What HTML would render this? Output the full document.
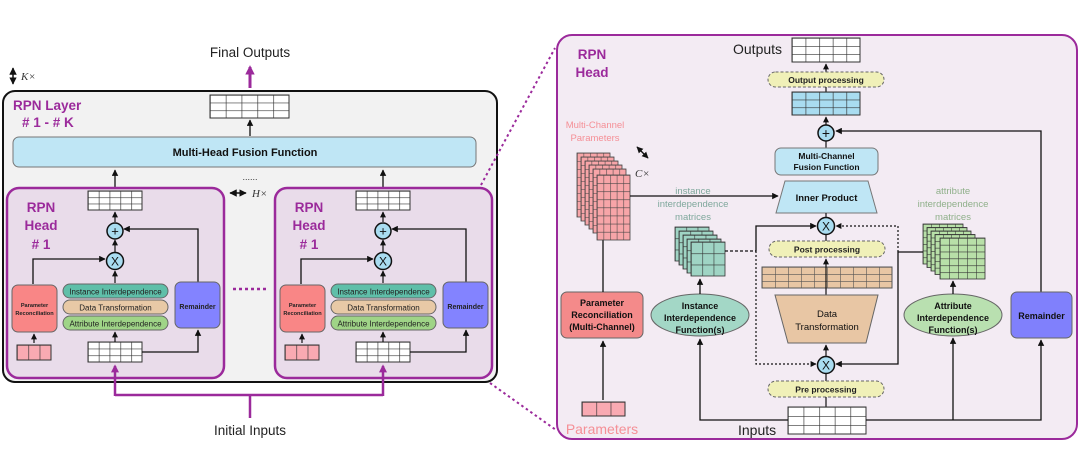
<!DOCTYPE html>
<html><head><meta charset="utf-8"><style>
html,body{margin:0;padding:0;background:#fff;}
svg{display:block;font-family:"Liberation Sans",sans-serif;}
</style></head><body>
<svg width="1080" height="475" viewBox="0 0 1080 475" xmlns="http://www.w3.org/2000/svg">
<defs>
<marker id="a" viewBox="0 0 10 10" refX="9" refY="5" markerWidth="5" markerHeight="5" orient="auto-start-reverse"><path d="M0 0L10 5L0 10z" fill="#111"/></marker>
<marker id="ap" viewBox="0 0 10 10" refX="8" refY="5" markerWidth="3.2" markerHeight="3.2" orient="auto"><path d="M0 0L10 5L0 10z" fill="#9b2a9b"/></marker>
<pattern id="w53" patternUnits="objectBoundingBox" width="0.2" height="0.3333"><rect width="200" height="200" fill="#fff"/><path d="M0 0H200M0 0V200" stroke="#333" stroke-width="1.3"/></pattern>
<pattern id="p31" patternUnits="objectBoundingBox" width="0.3333" height="1"><rect width="200" height="200" fill="#f9aab2"/><path d="M0 0H200M0 0V200" stroke="#333" stroke-width="1.3"/></pattern>
<pattern id="b53" patternUnits="objectBoundingBox" width="0.2" height="0.3333"><rect width="200" height="200" fill="#a9dcf0"/><path d="M0 0H200M0 0V200" stroke="#333" stroke-width="1.3"/></pattern>
<pattern id="t103" patternUnits="objectBoundingBox" width="0.1" height="0.3333"><rect width="200" height="200" fill="#e8c6a4"/><path d="M0 0H200M0 0V200" stroke="#555" stroke-width="1.2"/></pattern>
<pattern id="p58" patternUnits="objectBoundingBox" width="0.2" height="0.125"><rect width="200" height="200" fill="#f7a5a8"/><path d="M0 0H200M0 0V200" stroke="#444" stroke-width="1.1"/></pattern>
<pattern id="t33" patternUnits="objectBoundingBox" width="0.3333" height="0.3333"><rect width="200" height="200" fill="#9fd4c4"/><path d="M0 0H200M0 0V200" stroke="#333" stroke-width="1.2"/></pattern>
<pattern id="g56" patternUnits="objectBoundingBox" width="0.2" height="0.1667"><rect width="200" height="200" fill="#b8e0a8"/><path d="M0 0H200M0 0V200" stroke="#333" stroke-width="1.1"/></pattern>
</defs>

<!-- ================= LEFT PANEL ================= -->
<text x="250" y="57" font-size="13.5" text-anchor="middle" fill="#222">Final Outputs</text>
<line x1="250" y1="88" x2="250" y2="67" stroke="#9b2a9b" stroke-width="3" marker-end="url(#ap)"/>
<line x1="13" y1="68" x2="13" y2="84" stroke="#111" stroke-width="1.5" marker-end="url(#a)" marker-start="url(#a)"/>
<text x="21" y="80" font-size="11" font-style="italic" font-family="Liberation Serif,serif" fill="#333">K×</text>

<rect x="3" y="91" width="494" height="291" rx="12" fill="#f2f2f2" stroke="#111" stroke-width="2"/>
<text x="13" y="110" font-size="13.5" font-weight="bold" fill="#9b2a9b">RPN Layer</text>
<text x="22" y="127" font-size="13.5" font-weight="bold" fill="#9b2a9b"># 1 - # K</text>
<rect x="210" y="95" width="79" height="23" fill="url(#w53)" stroke="#333"/>
<line x1="250" y1="136" x2="250" y2="120" stroke="#111" stroke-width="1.3" marker-end="url(#a)"/>
<rect x="13" y="137" width="463" height="30" rx="6" fill="#bfe6f5" stroke="#777"/>
<text x="245" y="156" font-size="11" font-weight="bold" text-anchor="middle" fill="#111">Multi-Head Fusion Function</text>
<line x1="115" y1="187" x2="115" y2="170" stroke="#111" stroke-width="1.3" marker-end="url(#a)"/>
<line x1="383" y1="187" x2="383" y2="170" stroke="#111" stroke-width="1.3" marker-end="url(#a)"/>
<text x="250" y="180" font-size="9" text-anchor="middle" fill="#333">......</text>
<line x1="230" y1="193" x2="246" y2="193" stroke="#111" stroke-width="1.5" marker-end="url(#a)" marker-start="url(#a)"/>
<text x="252" y="197" font-size="11" font-style="italic" font-family="Liberation Serif,serif" fill="#333">H×</text>
<line x1="233" y1="289" x2="268" y2="289" stroke="#9b2a9b" stroke-width="2.5" stroke-dasharray="3,3"/>

<!-- head 1 -->
<g id="head">
<rect x="7" y="188" width="217" height="190" rx="12" fill="#e9dcea" stroke="#9b2a9b" stroke-width="2.5"/>
<text x="41" y="212" font-size="13.5" font-weight="bold" text-anchor="middle" fill="#9b2a9b">RPN</text>
<text x="41" y="230" font-size="13.5" font-weight="bold" text-anchor="middle" fill="#9b2a9b">Head</text>
<text x="41" y="249" font-size="13.5" font-weight="bold" text-anchor="middle" fill="#9b2a9b"># 1</text>
<rect x="88" y="191" width="54" height="19" fill="url(#w53)" stroke="#333"/>
<line x1="115" y1="222" x2="115" y2="212" stroke="#111" stroke-width="1.2" marker-end="url(#a)"/>
<circle cx="115" cy="231" r="8" fill="#a9dcf0" stroke="#111" stroke-width="1.5"/>
<text x="115" y="235.5" font-size="13" text-anchor="middle" fill="#111">+</text>
<line x1="115" y1="253" x2="115" y2="240" stroke="#111" stroke-width="1.2" marker-end="url(#a)"/>
<circle cx="115" cy="261" r="8.5" fill="#a9dcf0" stroke="#111" stroke-width="1.5"/>
<text x="115" y="265.5" font-size="12" text-anchor="middle" fill="#111">X</text>
<line x1="115" y1="283" x2="115" y2="271" stroke="#111" stroke-width="1.2" marker-end="url(#a)"/>
<polyline points="33,284 33,259 105,259" fill="none" stroke="#111" stroke-width="1.3" marker-end="url(#a)"/>
<polyline points="198,282 198,229 124,229" fill="none" stroke="#111" stroke-width="1.3" marker-end="url(#a)"/>
<rect x="12" y="285" width="45" height="47" rx="6" fill="#f98686" stroke="#666"/>
<text x="34.5" y="307" font-size="5.6" font-weight="bold" text-anchor="middle" fill="#222">Parameter</text>
<text x="34.5" y="315" font-size="5.6" font-weight="bold" text-anchor="middle" fill="#222">Reconciliation</text>
<rect x="63" y="284" width="105" height="14" rx="7" fill="#5fbfa9" stroke="#666"/>
<text x="115.5" y="294.5" font-size="8" text-anchor="middle" fill="#222">Instance Interdependence</text>
<rect x="63" y="300" width="105" height="14" rx="7" fill="#e8c9a6" stroke="#666"/>
<text x="115.5" y="310.5" font-size="8" text-anchor="middle" fill="#222">Data Transformation</text>
<rect x="63" y="316" width="105" height="14" rx="7" fill="#9fd487" stroke="#666"/>
<text x="115.5" y="326.5" font-size="8" text-anchor="middle" fill="#222">Attribute Interdependence</text>
<rect x="175" y="282" width="45" height="46" rx="6" fill="#8383ff" stroke="#666"/>
<text x="197.5" y="309" font-size="7" font-weight="bold" text-anchor="middle" fill="#222">Remainder</text>
<rect x="17" y="345" width="34" height="15" fill="url(#p31)" stroke="#333"/>
<line x1="34" y1="343" x2="34" y2="334" stroke="#111" stroke-width="1.2" marker-end="url(#a)"/>
<rect x="88" y="342" width="54" height="20" fill="url(#w53)" stroke="#333"/>
<line x1="115" y1="342" x2="115" y2="332" stroke="#111" stroke-width="1.2" marker-end="url(#a)"/>
<polyline points="142,352 198,352 198,330" fill="none" stroke="#111" stroke-width="1.3" marker-end="url(#a)"/>
</g>
<use href="#head" x="268"/>

<polyline points="115,395 383,395" fill="none" stroke="#9b2a9b" stroke-width="2.5"/>
<line x1="115" y1="396" x2="115" y2="366" stroke="#9b2a9b" stroke-width="2.5" marker-end="url(#ap)"/>
<line x1="383" y1="396" x2="383" y2="366" stroke="#9b2a9b" stroke-width="2.5" marker-end="url(#ap)"/>
<line x1="250" y1="395" x2="250" y2="418" stroke="#9b2a9b" stroke-width="2.5"/>
<text x="250" y="435" font-size="13.5" text-anchor="middle" fill="#222">Initial Inputs</text>

<line x1="481" y1="185" x2="555" y2="48" stroke="#9b2a9b" stroke-width="2" stroke-dasharray="2.5,3"/>
<line x1="490" y1="383" x2="556" y2="430" stroke="#9b2a9b" stroke-width="2" stroke-dasharray="2.5,3"/>

<!-- ================= RIGHT PANEL ================= -->
<rect x="557" y="35" width="520" height="404" rx="15" fill="#f3ebf3" stroke="#9b2a9b" stroke-width="2"/>
<text x="592" y="59" font-size="13.5" font-weight="bold" text-anchor="middle" fill="#9b2a9b">RPN</text>
<text x="592" y="77" font-size="13.5" font-weight="bold" text-anchor="middle" fill="#9b2a9b">Head</text>

<text x="733" y="54" font-size="14" fill="#222">Outputs</text>
<rect x="792" y="38" width="68" height="24" fill="url(#w53)" stroke="#333"/>
<line x1="826" y1="72" x2="826" y2="64" stroke="#111" stroke-width="1.2" marker-end="url(#a)"/>
<rect x="768" y="72" width="116" height="15" rx="7.5" fill="#f0f0b8" stroke="#666" stroke-dasharray="3,2"/>
<text x="826" y="83" font-size="8.5" font-weight="bold" text-anchor="middle" fill="#222">Output processing</text>
<line x1="826" y1="92" x2="826" y2="87" stroke="#111" stroke-width="1.2"/>
<rect x="792" y="92" width="68" height="23" fill="url(#b53)" stroke="#333"/>
<line x1="826" y1="125" x2="826" y2="117" stroke="#111" stroke-width="1.2" marker-end="url(#a)"/>
<circle cx="826" cy="133" r="8" fill="#a9dcf0" stroke="#111" stroke-width="1.5"/>
<text x="826" y="138" font-size="14" text-anchor="middle" fill="#111">+</text>
<line x1="826" y1="148" x2="826" y2="141" stroke="#111" stroke-width="1.2"/>
<rect x="775" y="148" width="103" height="27" rx="6" fill="#bfe6f5" stroke="#777"/>
<text x="826.5" y="159" font-size="8.5" font-weight="bold" text-anchor="middle" fill="#111">Multi-Channel</text>
<text x="826.5" y="170" font-size="8.5" font-weight="bold" text-anchor="middle" fill="#111">Fusion Function</text>
<polygon points="785,181 868,181 877,213 776,213" fill="#bfe6f5" stroke="#777"/>
<text x="826.5" y="201" font-size="9.5" font-weight="bold" text-anchor="middle" fill="#111">Inner Product</text>
<line x1="826" y1="213" x2="826" y2="217" stroke="#111" stroke-width="1.2"/>
<circle cx="826" cy="226" r="8.5" fill="#a9dcf0" stroke="#111" stroke-width="1.5"/>
<text x="826" y="230.5" font-size="12" text-anchor="middle" fill="#111">X</text>
<line x1="826" y1="241" x2="826" y2="235" stroke="#111" stroke-width="1.2"/>
<rect x="769" y="241" width="116" height="16" rx="8" fill="#f0f0b8" stroke="#666" stroke-dasharray="3,2"/>
<text x="827" y="252.5" font-size="8.5" font-weight="bold" text-anchor="middle" fill="#222">Post processing</text>
<rect x="762" y="267" width="130" height="21" fill="url(#t103)" stroke="#555"/>
<line x1="826" y1="295" x2="826" y2="259" stroke="#111" stroke-width="1.2" marker-end="url(#a)"/>
<polygon points="775,295 878,295 866,343 788,343" fill="#e8c6a4" stroke="#666"/>
<text x="827" y="317" font-size="9.5" text-anchor="middle" fill="#111">Data</text>
<text x="827" y="330" font-size="9.5" text-anchor="middle" fill="#111">Transformation</text>
<line x1="826" y1="356" x2="826" y2="345" stroke="#111" stroke-width="1.2" marker-end="url(#a)"/>
<circle cx="826" cy="365" r="8.5" fill="#a9dcf0" stroke="#111" stroke-width="1.5"/>
<text x="826" y="369.5" font-size="12" text-anchor="middle" fill="#111">X</text>
<line x1="826" y1="381" x2="826" y2="374" stroke="#111" stroke-width="1.2"/>
<rect x="768" y="381" width="116" height="16" rx="8" fill="#f0f0b8" stroke="#666" stroke-dasharray="3,2"/>
<text x="826" y="392.5" font-size="8.5" font-weight="bold" text-anchor="middle" fill="#222">Pre processing</text>
<line x1="826" y1="407" x2="826" y2="397" stroke="#111" stroke-width="1.2"/>
<rect x="788" y="407" width="78" height="27" fill="url(#w53)" stroke="#333"/>
<text x="738" y="435" font-size="14" fill="#222">Inputs</text>

<!-- input routing -->
<polyline points="788,420 700,420 700,339" fill="none" stroke="#111" stroke-width="1.3" marker-end="url(#a)"/>
<polyline points="866,420 1041,420 1041,340" fill="none" stroke="#111" stroke-width="1.3" marker-end="url(#a)"/>
<line x1="953" y1="420" x2="953" y2="338" stroke="#111" stroke-width="1.3" marker-end="url(#a)"/>
<polyline points="1041,292 1041,131 836,131" fill="none" stroke="#111" stroke-width="1.3" marker-end="url(#a)"/>

<!-- param recon -->
<rect x="561" y="292" width="82" height="46" rx="6" fill="#f48a8a" stroke="#666"/>
<text x="602" y="306" font-size="9" font-weight="bold" text-anchor="middle" fill="#111">Parameter</text>
<text x="602" y="318" font-size="9" font-weight="bold" text-anchor="middle" fill="#111">Reconciliation</text>
<text x="602" y="330" font-size="9" font-weight="bold" text-anchor="middle" fill="#111">(Multi-Channel)</text>
<line x1="603" y1="400" x2="603" y2="341" stroke="#111" stroke-width="1.3" marker-end="url(#a)"/>
<rect x="582" y="402" width="43" height="14" fill="url(#p31)" stroke="#333"/>
<text x="602" y="434" font-size="14" text-anchor="middle" fill="#f58f96">Parameters</text>
<line x1="603" y1="292" x2="603" y2="238" stroke="#111" stroke-width="1.3"/>

<!-- pink stack -->
<text x="595" y="128" font-size="9.5" text-anchor="middle" fill="#f58f96">Multi-Channel</text>
<text x="595" y="141" font-size="9.5" text-anchor="middle" fill="#f58f96">Parameters</text>
<rect x="577" y="153" width="33" height="64" fill="url(#p58)" stroke="#444" stroke-width="0.8"/>
<rect x="581" y="157" width="33" height="64" fill="url(#p58)" stroke="#444" stroke-width="0.8"/>
<rect x="585" y="161" width="33" height="64" fill="url(#p58)" stroke="#444" stroke-width="0.8"/>
<rect x="589" y="165" width="33" height="64" fill="url(#p58)" stroke="#444" stroke-width="0.8"/>
<rect x="593" y="169" width="33" height="64" fill="url(#p58)" stroke="#444" stroke-width="0.8"/>
<rect x="597" y="175" width="33" height="65" fill="url(#p58)" stroke="#444" stroke-width="0.8"/>
<line x1="637" y1="147" x2="648" y2="158" stroke="#111" stroke-width="1.3" marker-end="url(#a)" marker-start="url(#a)"/>
<text x="635" y="177" font-size="11" font-style="italic" font-family="Liberation Serif,serif" fill="#333">C×</text>
<line x1="630" y1="196" x2="778" y2="196" stroke="#111" stroke-width="1.3" marker-end="url(#a)"/>

<!-- instance matrices -->
<text x="693" y="194" font-size="9.5" text-anchor="middle" fill="#7fa89c">instance</text>
<text x="693" y="207" font-size="9.5" text-anchor="middle" fill="#7fa89c">interdependence</text>
<text x="693" y="220" font-size="9.5" text-anchor="middle" fill="#7fa89c">matrices</text>
<rect x="675" y="227" width="34" height="34" fill="url(#t33)" stroke="#333" stroke-width="0.8"/>
<rect x="679" y="231" width="34" height="34" fill="url(#t33)" stroke="#333" stroke-width="0.8"/>
<rect x="683" y="235" width="34" height="34" fill="url(#t33)" stroke="#333" stroke-width="0.8"/>
<rect x="687" y="239" width="34" height="34" fill="url(#t33)" stroke="#333" stroke-width="0.8"/>
<rect x="691" y="242" width="34" height="34" fill="url(#t33)" stroke="#333" stroke-width="0.8"/>
<ellipse cx="700" cy="315" rx="49" ry="21" fill="#a3d7c6" stroke="#666"/>
<text x="700" y="309" font-size="9" font-weight="bold" text-anchor="middle" fill="#111">Instance</text>
<text x="700" y="321" font-size="9" font-weight="bold" text-anchor="middle" fill="#111">Interdependence</text>
<text x="700" y="333" font-size="9" font-weight="bold" text-anchor="middle" fill="#111">Function(s)</text>
<line x1="700" y1="294" x2="700" y2="279" stroke="#111" stroke-width="1.3" marker-end="url(#a)"/>
<line x1="725" y1="251" x2="756" y2="251" stroke="#111" stroke-width="1.3" stroke-dasharray="3,2"/>
<polyline points="756,251 756,226 816,226" fill="none" stroke="#111" stroke-width="1.3" marker-end="url(#a)"/>
<polyline points="756,251 756,364 816,364" fill="none" stroke="#111" stroke-width="1.2" stroke-dasharray="2,2" marker-end="url(#a)"/>

<!-- attribute matrices -->
<text x="953" y="194" font-size="9.5" text-anchor="middle" fill="#8fb08a">attribute</text>
<text x="953" y="207" font-size="9.5" text-anchor="middle" fill="#8fb08a">interdependence</text>
<text x="953" y="220" font-size="9.5" text-anchor="middle" fill="#8fb08a">matrices</text>
<rect x="923" y="224" width="40" height="40" fill="url(#g56)" stroke="#333" stroke-width="0.8"/>
<rect x="927" y="227.5" width="40" height="40" fill="url(#g56)" stroke="#333" stroke-width="0.8"/>
<rect x="931" y="231" width="40" height="40" fill="url(#g56)" stroke="#333" stroke-width="0.8"/>
<rect x="935" y="234.5" width="40" height="40" fill="url(#g56)" stroke="#333" stroke-width="0.8"/>
<rect x="940" y="238" width="45" height="41" fill="url(#g56)" stroke="#333" stroke-width="0.8"/>
<ellipse cx="953" cy="315" rx="49" ry="21" fill="#b9e0b0" stroke="#666"/>
<text x="953" y="309" font-size="9" font-weight="bold" text-anchor="middle" fill="#111">Attribute</text>
<text x="953" y="321" font-size="9" font-weight="bold" text-anchor="middle" fill="#111">Interdependence</text>
<text x="953" y="333" font-size="9" font-weight="bold" text-anchor="middle" fill="#111">Function(s)</text>
<line x1="953" y1="294" x2="953" y2="281" stroke="#111" stroke-width="1.3" marker-end="url(#a)"/>
<polyline points="923,252 898,252 898,364 836,364" fill="none" stroke="#111" stroke-width="1.3" marker-end="url(#a)"/>
<polyline points="898,252 898,226 836,226" fill="none" stroke="#111" stroke-width="1.2" stroke-dasharray="2,2" marker-end="url(#a)"/>

<!-- remainder -->
<rect x="1011" y="292" width="61" height="46" rx="6" fill="#8080fc" stroke="#666"/>
<text x="1041.5" y="319" font-size="9" font-weight="bold" text-anchor="middle" fill="#111">Remainder</text>
</svg>
</body></html>
